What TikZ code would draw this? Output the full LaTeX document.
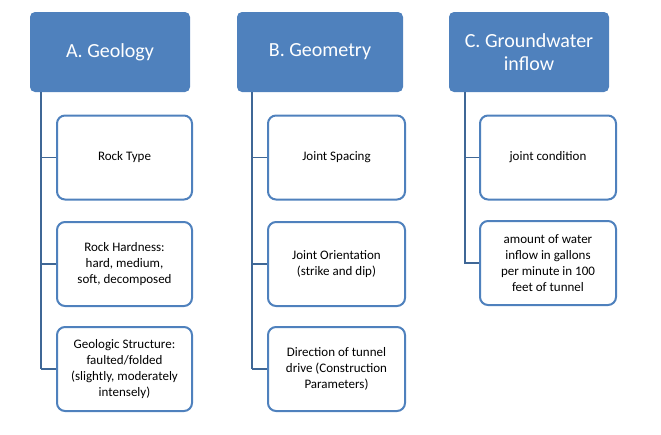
\documentclass[tikz,border=0pt]{standalone}
\usepackage{fontspec}
\setmainfont{Carlito}
\begin{document}
\begin{tikzpicture}[x=1pt,y=-1pt,
  head/.style={draw=none,fill=hc,rounded corners=5pt,text=white,align=center,font=\fontsize{20}{23}\selectfont,inner sep=0pt},
  kid/.style={draw=hc,line width=2pt,fill=white,rounded corners=8pt,align=center,font=\fontsize{13}{16}\selectfont,inner sep=0pt},
  conn/.style={draw=lc,line width=1.3pt}]
\definecolor{hc}{HTML}{4F81BD}
\definecolor{lc}{HTML}{3F6796}
\useasboundingbox (0,0) rectangle (661,434);
% headers
\node[head,minimum width=160pt,minimum height=80pt] (A) at (110,52) {A. Geology};
\node[head,minimum width=166pt,minimum height=80pt] (B) at (320,52) {B. Geometry};
\node[head,minimum width=160pt,minimum height=80pt] (C) at (529,52) {C. Groundwater\\inflow};
% coordinates
\coordinate (a0) at (41,92); \coordinate (a3) at (41,369);
\coordinate (b0) at (252,92); \coordinate (b3) at (252,369);
\coordinate (c0) at (465,92); \coordinate (c2) at (465,264);
\draw[conn] (a0) -- (a3); \draw[conn] (b0) -- (b3); \draw[conn] (c0) -- (c2);
% children
\foreach \n/\x/\y/\w/\t in {
 a1/124.5/157.5/135/{Rock Type},
 a2/124.5/264/135/{Rock Hardness:\\hard, medium,\\soft, decomposed},
 a3b/124.5/369/135/{Geologic Structure:\\faulted/folded\\(slightly, moderately\\intensely)},
 b1/336.5/157.5/137/{Joint Spacing},
 b2/336.5/264/137/{Joint Orientation\\(strike and dip)},
 b3b/336.5/369/137/{Direction of tunnel\\drive (Construction\\Parameters)},
 c1/548/157.5/136/{joint condition},
 c2b/548/263/136/{amount of water\\inflow in gallons\\per minute in 100\\feet of tunnel}}
 \node[kid,minimum width=\w pt,minimum height=84pt] (\n) at (\x,\y) {\t};
\draw[conn] (41,157.5) -- (a1.west);
\draw[conn] (41,264) -- (a2.west);
\draw[conn] (a3) -- (a3b.west);
\draw[conn] (252,157.5) -- (b1.west);
\draw[conn] (252,264) -- (b2.west);
\draw[conn] (b3) -- (b3b.west);
\draw[conn] (465,157.5) -- (c1.west);
\draw[conn] (465,263) -- (c2b.west);
\end{tikzpicture}
\end{document}
